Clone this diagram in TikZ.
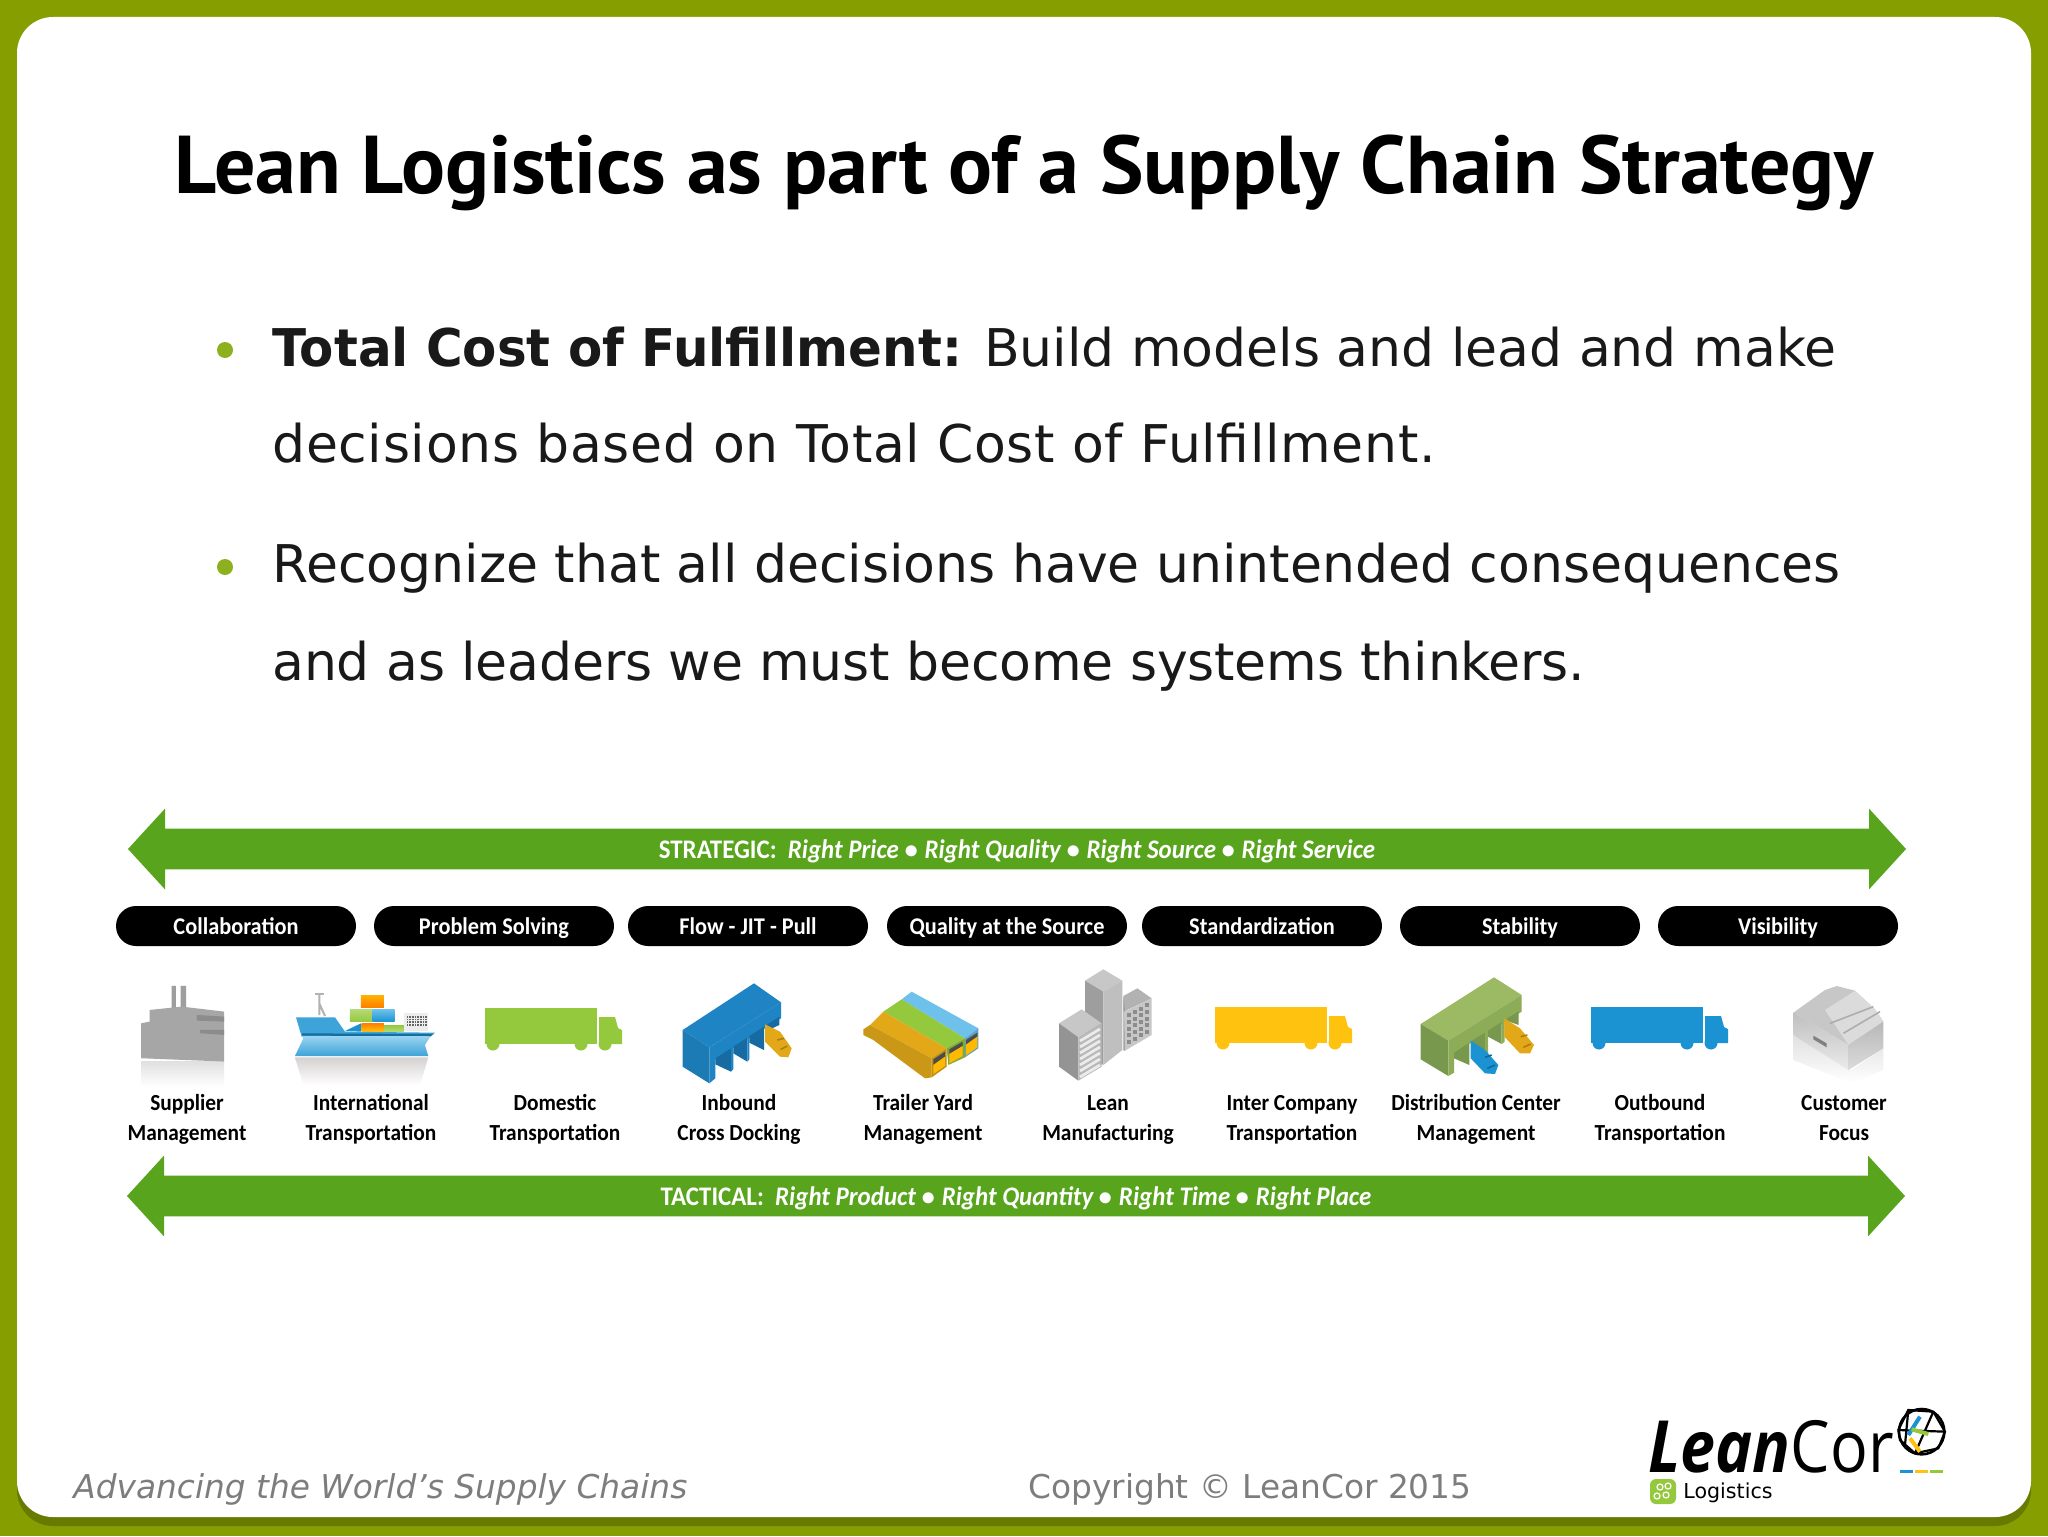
\documentclass[tikz,border=0pt]{standalone}
\usepackage{fontspec}
\usetikzlibrary{shapes.misc,shapes.arrows}
\setmainfont{DejaVu Sans}[BoldFeatures={FakeStretch=.96}]
\newfontfamily\titlefont{PT Sans}
\newfontfamily\labelfont{Carlito}[FakeStretch=.93]
\newfontfamily\logofont{Open Sans}[FakeStretch=.87]
\definecolor{olivebg}{RGB}{135,158,0}
\definecolor{oliveshade}{RGB}{104,122,0}
\definecolor{bandgreen}{RGB}{88,164,28}
\definecolor{dotgreen}{RGB}{141,176,30}
\definecolor{lorrygreen}{RGB}{149,201,61}
\definecolor{lorryyellow}{RGB}{255,194,14}
\definecolor{lorryblue}{RGB}{27,147,210}
\definecolor{dockblue}{RGB}{30,132,196}
\definecolor{dockmid}{RGB}{28,122,180}
\definecolor{dockdark}{RGB}{22,108,162}
\definecolor{dcgreen}{RGB}{156,185,100}
\definecolor{dcmid}{RGB}{140,172,88}
\definecolor{dcdark}{RGB}{120,152,78}
\definecolor{cargoorange}{RGB}{226,168,24}
\definecolor{skyblue}{RGB}{110,193,235}
\definecolor{footgray}{RGB}{125,125,125}
\tikzset{
  bodyline/.style={anchor=base west,font=\fontsize{26}{26}\selectfont,inner sep=0pt,text=black!90},
  bulletdot/.style={circle,fill=dotgreen,minimum size=8pt,inner sep=0pt},
  pill/.style={rounded rectangle,fill=black,text=white,minimum width=120pt,minimum height=20pt,inner sep=0pt,
    text height=8pt,text depth=0pt,font=\labelfont\bfseries\fontsize{12}{12}\selectfont},
  steplabel/.style={align=center,anchor=base,inner sep=0pt,font=\labelfont\bfseries\fontsize{11.5}{15}\selectfont},
  band/.style={double arrow,fill=bandgreen,text=white,inner xsep=0pt,inner ysep=5.5pt,text height=9pt,text depth=0pt,
    double arrow head extend=10pt,double arrow tip angle=95,double arrow head indent=0pt,minimum height=889pt,
    font=\labelfont\bfseries\fontsize{13.4}{13.4}\selectfont},
  footer/.style={text=footgray,inner sep=0pt,anchor=west,font=\fontsize{16.4}{16.4}\selectfont},
  iconat/.style={shift={#1},scale=.3333},
  iconleft/.style={shift={(100,950)},xscale=.606,yscale=.333},
}
\newcommand{\lorry}[3]{%
  \begin{scope}[shift={(#1,#2)}]
    \fill[#3] (0,0) rectangle (112,36);
    \fill[#3] (114,9)--(130,9)--(133,20)--(137,22)--(137,36)--(114,36)--cycle;
    \foreach \wx in {8,96,120} {\fill[#3] (\wx,36) circle[radius=6.5];}
  \end{scope}}
\begin{document}
\begin{tikzpicture}[x=.5pt,y=-.5pt]
\useasboundingbox (0,0) rectangle (2048,1536);
\fill[olivebg] (0,0) rectangle (2048,1536);
\fill[oliveshade,rounded corners=18pt] (17,30) rectangle (2031,1526);
\fill[white,rounded corners=18pt] (17,17) rectangle (2031,1517);
\node (title) at (1024,173) {\titlefont\bfseries\fontsize{41}{41}\selectfont Lean Logistics as part of a Supply Chain Strategy};
\node[bulletdot] (dotone) at (225,350) {};
\node[bulletdot] (dottwo) at (225,567) {};
\node[bodyline] (lineone) at (272,366) {\textbf{Total Cost of Fulfillment:} Build models and lead and make};
\node[bodyline] (linetwo) at (272,462) {\addfontfeature{LetterSpace=1.3}decisions based on Total Cost of Fulfillment.};
\node[bodyline] (linethree) at (272,582) {Recognize that all decisions have unintended consequences};
\node[bodyline] (linefour) at (272,680) {\addfontfeature{LetterSpace=-.3}and as leaders we must become systems thinkers.};
\node[band] (strategic) at (1017,849) {STRATEGIC:\ \ \textit{Right Price $\bullet$ Right Quality $\bullet$ Right Source $\bullet$ Right Service}};
\node[band] (tactical) at (1016,1196) {TACTICAL:\ \ \textit{Right Product $\bullet$ Right Quantity $\bullet$ Right Time $\bullet$ Right Place}};
\foreach \x/\xname/\xtext in {236/a/Collaboration,494/b/Problem Solving,748/c/Flow - JIT - Pull,1007/d/Quality at the Source,1262/e/Standardization,1520/f/Stability,1778/g/Visibility}
{
    \node[pill] (pill\xname) at (\x,926) {\xtext};
}
\foreach \x/\xname/\xtext in {187/a/Supplier\\Management,371/b/International\\Transportation,555/c/Domestic\\Transportation,739/d/Inbound\\Cross Docking,923/e/Trailer Yard\\Management,1108/f/Lean\\Manufacturing,1292/g/Inter Company\\Transportation,1476/h/Distribution Center\\Management,1660/i/Outbound\\Transportation,1844/j/Customer\\Focus}
{
    \node[steplabel] (step\xname) at (\x,1140) {\xtext};
}
% supplier
\begin{scope}[iconleft]
\shade[top color=black!12,bottom color=white] (68,335) rectangle (205,410);
\fill[black!38] (118,108) rectangle (125,180) (133,108) rectangle (142,180);
\fill[black!35] (82,180)--(135,170)--(205,185)--(205,335)--(68,325)--(68,220)--(82,215)--cycle;
\fill[black!45] (160,195)--(205,200)--(205,215)--(160,212)--cycle (165,240)--(205,240)--(205,255)--(165,250)--cycle;
\end{scope}
% ship
\begin{scope}[iconat={(280,970)}]
\shade[top color=red!10!black!18,bottom color=white] (45,262)--(445,262)--(420,345)--(70,345)--cycle;
\draw[black!30,line width=1pt] (118,72)--(118,135) (118,100)--(135,138);
\draw[black!30,line width=1pt] (106,72)--(132,72);
\fill[black!7] (372,128) rectangle (445,182);
\foreach \xa in {0,1,2,3,4,5,6,7}
{
    \foreach \ya in {0,1,2,3}
    {
        \fill[black!60] (380+\xa*8,138+\ya*8) rectangle +(5,5);
    }
}
\shade[top color=orange!60!yellow,bottom color=orange] (243,75) rectangle (312,112);
\shade[top color=lorrygreen!70!white,bottom color=lorrygreen] (210,118) rectangle (277,155);
\shade[top color=skyblue,bottom color=lorryblue] (277,118) rectangle (344,155);
\fill[lorryblue] (195,183)--(243,160)--(243,185)--cycle;
\shade[top color=orange,bottom color=lorryyellow] (245,160) rectangle (312,185);
\shade[top color=lorrygreen,bottom color=lorrygreen!70!white] (312,165) rectangle (372,185);
\fill[lorryblue!85!white] (48,142)--(165,142)--(195,185)--(465,188)--(452,200)--(65,200)--cycle;
\shade[top color=skyblue!70!white,bottom color=lorryblue!85!white] (65,198)--(452,198)--(435,225)--(445,258)--(45,258)--(70,205)--cycle;
\fill[lorryblue!75!black] (66,190)--(460,192)--(452,198)--(66,197)--cycle;
\end{scope}
% inbound dock
\begin{scope}[iconat={(670,970)}]
\fill[dockblue] (252,40)--(333,97)--(118,232)--(38,180)--cycle;
\fill[dockmid] (38,180)--(118,232)--(118,340)--(38,290)--cycle;
\fill[dockblue] (118,232)--(333,97)--(333,145)--(118,278)--cycle;
\fill[dockblue] (118,278)--(136,265)--(136,325)--(118,340)--cycle;
\fill[dockdark] (136,265)--(183,235)--(183,305)--(136,283)--cycle;
\fill[dockblue] (183,235)--(190,230)--(190,298)--(183,305)--cycle;
\fill[dockdark] (190,230)--(232,203)--(232,275)--(190,250)--cycle;
\fill[dockblue] (232,203)--(238,198)--(238,268)--(232,275)--cycle;
\fill[dockdark] (238,198)--(282,170)--(282,240)--(238,218)--cycle;
\fill[dockdark] (285,168)--(328,140)--(328,165)--(285,185)--cycle;
\fill[cargoorange] (285,163)--(330,185)--(365,235)--(355,262)--(330,260)--(285,215)--cycle;
\draw[cargoorange!75!black,line width=.8pt] (322,210)--(342,205) (332,238)--(352,228);
\end{scope}
% trailer yard
\begin{scope}[iconat={(850,970)}]
\fill[skyblue] (155,88)--(185,65)--(385,175)--(345,205)--cycle;
\fill[skyblue!85!black] (345,205)--(385,175)--(385,235)--(345,262)--cycle;
\fill[lorrygreen] (100,125)--(155,88)--(345,205)--(290,235)--cycle;
\fill[lorrygreen!85!black] (290,235)--(345,205)--(345,262)--(295,285)--cycle;
\fill[cargoorange] (60,165)--(100,125)--(290,235)--(245,265)--cycle;
\fill[cargoorange!90!black] (60,165)--(245,265)--(245,322)--(225,325)--(70,210)--(40,195)--(40,178)--cycle;
\fill[cargoorange!85!black] (245,265)--(290,235)--(290,290)--(245,322)--cycle;
\fill[black!70] (250,268)--(285,245)--(285,260)--(250,285)--cycle;
\fill[black!70] (298,238)--(338,215)--(338,228)--(298,252)--cycle;
\fill[black!70] (348,210)--(382,188)--(382,200)--(348,224)--cycle;
\fill[orange!55!yellow] (250,285)--(285,260)--(285,288)--(250,312)--cycle;
\fill[orange!55!yellow] (298,252)--(338,228)--(338,258)--(298,280)--cycle;
\fill[orange!55!yellow] (348,224)--(382,200)--(382,232)--(348,256)--cycle;
\end{scope}
\lorry{485}{1008}{lorrygreen}
\lorry{1215}{1007}{lorryyellow}
\lorry{1591}{1007}{lorryblue}
% lean manufacturing
\begin{scope}[iconat={(1040,960)}]
\fill[black!22] (135,62)--(190,28)--(247,62)--(190,95)--cycle;
\fill[black!38] (135,62)--(190,95)--(190,315)--(135,280)--cycle;
\fill[black!25] (190,95)--(247,62)--(247,270)--(190,315)--cycle;
\fill[black!30] (250,108)--(292,85)--(335,115)--(250,155)--cycle;
\fill[black!38] (250,108)--(250,272)--(255,272)--(255,150)--cycle;
\fill[black!22] (252,155)--(335,115)--(335,225)--(255,272)--cycle;
\foreach \xa in {0,1,2,3}
{
    \foreach \ya in {0,1,2,3,4}
    {
        \fill[black!45] (262+\xa*18,172-\xa*10+\ya*20) rectangle +(10,-12);
    }
}
\fill[black!22] (57,190)--(125,148)--(185,190)--(115,232)--cycle;
\fill[black!42] (57,190)--(115,232)--(115,362)--(57,320)--cycle;
\fill[black!28] (115,232)--(185,190)--(185,320)--(115,362)--cycle;
\foreach \ya in {0,18,36,54,72,90,108}
{
    \draw[black!8,line width=1.4pt] (120,243+\ya)--(180,207+\ya);
}
\end{scope}
% distribution center
\begin{scope}[iconat={(1400,970)}]
\fill[dcgreen] (282,22)--(365,75)--(145,212)--(62,162)--cycle;
\fill[dcdark] (62,162)--(145,212)--(145,318)--(62,268)--cycle;
\fill[dcmid] (145,212)--(365,75)--(365,125)--(145,260)--cycle;
\fill[dcmid] (145,260)--(162,248)--(162,308)--(145,318)--cycle;
\fill[dcdark] (162,248)--(208,218)--(208,285)--(162,265)--cycle;
\fill[dcdark] (215,212)--(255,188)--(255,260)--(215,235)--cycle;
\fill[dcmid] (255,188)--(264,182)--(264,255)--(255,260)--cycle;
\fill[dcdark] (264,182)--(305,156)--(305,222)--(264,200)--cycle;
\fill[dcmid] (305,156)--(314,150)--(314,215)--(305,222)--cycle;
\fill[dcdark] (314,150)--(356,124)--(356,165)--(314,150)--cycle;
\fill[cargoorange] (313,145)--(360,175)--(402,225)--(390,250)--(360,250)--(313,200)--cycle;
\draw[cargoorange!75!black,line width=.8pt] (362,200)--(382,195) (370,232)--(392,222);
\fill[lorryblue] (212,212)--(255,240)--(295,285)--(285,312)--(255,310)--(212,265)--cycle;
\draw[lorryblue!70!black,line width=.8pt] (255,262)--(275,255) (262,295)--(285,285);
\end{scope}
% customer focus
\begin{scope}[iconat={(1780,970)}]
\shade[top color=black!12,bottom color=white] (40,195)--(215,300)--(310,235)--(310,300)--(215,340)--(40,270)--cycle;
\fill[black!22] (40,128)--(135,60)--(170,48)--(225,62)--(285,118)--(310,155)--(205,225)--cycle;
\fill[black!14] (135,120)--(225,62)--(285,118)--(310,155)--(205,225)--cycle;
\shade[top color=black!25,bottom color=black!8] (40,128)--(205,225)--(205,300)--(40,195)--cycle;
\shade[top color=black!28,bottom color=black!14] (205,225)--(310,155)--(310,235)--(205,300)--cycle;
\draw[black!32,line width=.8pt] (150,160)--(280,110) (190,190)--(300,125);
\fill[black!50] (100,197)--(140,220)--(140,232)--(100,208)--cycle;
\end{scope}
\node[footer] (slogan) at (73,1489) {\textit{Advancing the World’s Supply Chains}};
\node[footer] (copyright) at (1028,1489) {Copyright © LeanCor 2015};
% logo
\node[anchor=base west,inner sep=0pt] (logotext) at (1648,1472) {\logofont\fontsize{36}{36}\selectfont\textbf{\textit{Lean}}Cor};
\fill[lorrygreen,rounded corners=3pt] (1650,1479) rectangle (1676,1504);
\foreach \ringx/\ringy in {1660/1487,1668/1486,1657/1496,1666/1495}
{
    \draw[white,line width=.6pt] (\ringx,\ringy) circle[radius=3];
}
\node[anchor=west,inner sep=0pt,font=\fontsize{10.3}{10.3}\selectfont] (logosub) at (1683,1493) {Logistics};
\begin{scope}[iconat={(1600,1380)}]
\draw[line width=1.3pt] (965,155) circle[radius=68];
\draw[line width=1.1pt] (925,90)--(1000,95)--(1035,155)--(1015,205)--(945,220)--(900,180)--(895,150)--cycle;
\draw[line width=1.1pt] (925,90)--(915,195) (895,150)--(1035,155) (1000,95)--(945,220);
\draw[lorryblue,line width=2pt] (925,165)--(960,110);
\draw[lorrygreen,line width=2pt] (935,148)--(985,162);
\draw[lorryyellow,line width=2pt] (930,175)--(960,215);
\end{scope}
\fill[lorryblue] (1900,1470) rectangle (1913,1473);
\fill[lorryyellow] (1915,1470) rectangle (1928,1473);
\fill[lorrygreen] (1930,1470) rectangle (1943,1473);
\end{tikzpicture}
\end{document}
